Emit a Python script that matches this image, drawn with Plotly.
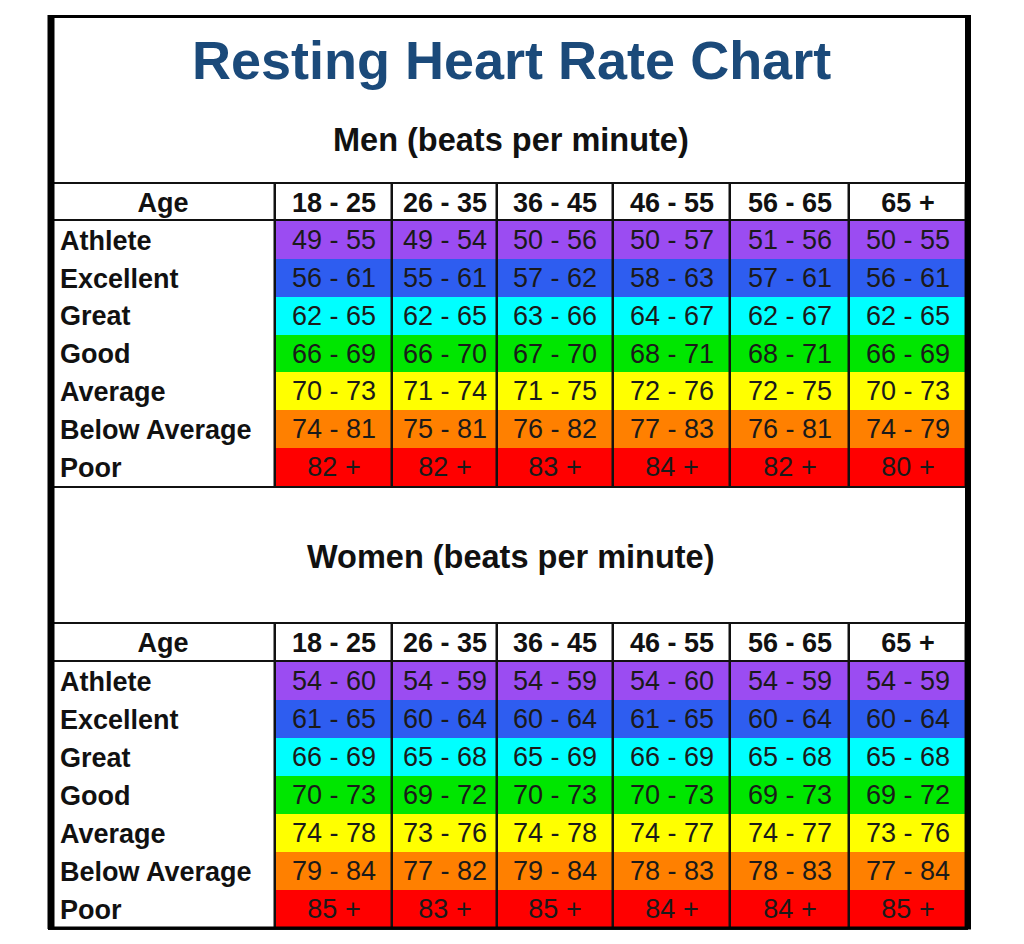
import plotly.graph_objects as go

# Data: resting heart rate ranges (beats per minute)
ages = ["18 - 25", "26 - 35", "36 - 45", "46 - 55", "56 - 65", "65 +"]
levels = ["Athlete", "Excellent", "Great", "Good", "Average", "Below Average", "Poor"]

men = [
    ["49 - 55", "49 - 54", "50 - 56", "50 - 57", "51 - 56", "50 - 55"],
    ["56 - 61", "55 - 61", "57 - 62", "58 - 63", "57 - 61", "56 - 61"],
    ["62 - 65", "62 - 65", "63 - 66", "64 - 67", "62 - 67", "62 - 65"],
    ["66 - 69", "66 - 70", "67 - 70", "68 - 71", "68 - 71", "66 - 69"],
    ["70 - 73", "71 - 74", "71 - 75", "72 - 76", "72 - 75", "70 - 73"],
    ["74 - 81", "75 - 81", "76 - 82", "77 - 83", "76 - 81", "74 - 79"],
    ["82 +", "82 +", "83 +", "84 +", "82 +", "80 +"],
]
women = [
    ["54 - 60", "54 - 59", "54 - 59", "54 - 60", "54 - 59", "54 - 59"],
    ["61 - 65", "60 - 64", "60 - 64", "61 - 65", "60 - 64", "60 - 64"],
    ["66 - 69", "65 - 68", "65 - 69", "66 - 69", "65 - 68", "65 - 68"],
    ["70 - 73", "69 - 72", "70 - 73", "70 - 73", "69 - 73", "69 - 72"],
    ["74 - 78", "73 - 76", "74 - 78", "74 - 77", "74 - 77", "73 - 76"],
    ["79 - 84", "77 - 82", "79 - 84", "78 - 83", "78 - 83", "77 - 84"],
    ["85 +", "83 +", "85 +", "84 +", "84 +", "85 +"],
]

# Styling
level_colors = ["#9b4cf2", "#2e5df0", "#00ffff", "#00e600", "#ffff00", "#ff8000", "#ff0000"]
col_widths = [225, 117, 105, 116, 117, 119, 117]   # label column + age columns (px)
FONT = "Liberation Sans"
OFF = 8                      # page body margin
W, H = 1024 - 2 * OFF, 944 - OFF

edges = [0]
for w in col_widths:
    edges.append(edges[-1] + w)

# white for label column, then one colour per level
palette = ["#ffffff"] + level_colors
n = len(palette)
colorscale = []
for i, c in enumerate(palette):
    colorscale += [[i / n, c], [(i + 1) / n, c]]


def px_x(px):
    return (px - OFF) / W


def px_y(px):
    return 1 - (px - OFF) / H


fig = go.Figure()

# page-pixel boundaries of each block: (top, bottom)
blocks = [
    ("header", men, (184, 221)),
    ("body", men, (221, 486)),
    ("header", women, (624, 662)),
    ("body", women, (662, 928)),
]

for k, (kind, table, (top, bot)) in enumerate(blocks, start=1):
    xa = "x" if k == 1 else f"x{k}"
    ya = "y" if k == 1 else f"y{k}"
    if kind == "header":
        fig.add_trace(go.Heatmap(
            x=edges, y=[0, 1],
            z=[[0] * (len(ages) + 1)],
            text=[["Age"] + ages],
            texttemplate="%{text}",
            textfont=dict(family=FONT, size=27, color="#111111", weight="bold"),
            colorscale=colorscale, zmin=0, zmax=n - 1, showscale=False,
            xgap=2.5, hoverinfo="skip", xaxis=xa, yaxis=ya,
        ))
        yrange = [1, 0]
    else:
        z = [[0] + [i + 1] * len(ages) for i in range(len(levels))]
        text = [[""] + row for row in table]
        fig.add_trace(go.Heatmap(
            x=edges, y=list(range(len(levels) + 1)),
            z=z, text=text,
            texttemplate="%{text}",
            textfont=dict(family=FONT, size=27, color="#1a1a1a"),
            colorscale=colorscale, zmin=0, zmax=n - 1, showscale=False,
            xgap=2.5, hoverinfo="skip", xaxis=xa, yaxis=ya,
        ))
        # row labels, left aligned in the first column
        fig.add_trace(go.Scatter(
            x=[10] * len(levels), y=[i + 0.58 for i in range(len(levels))],
            text=levels, mode="text", textposition="middle right",
            textfont=dict(family=FONT, size=27, color="#111111", weight="bold"),
            hoverinfo="skip", showlegend=False, xaxis=xa, yaxis=ya,
        ))
        yrange = [len(levels), 0]

    axis_style = dict(showgrid=False, zeroline=False, showticklabels=False, ticks="",
                      showline=True, mirror=True, linecolor="#111111", linewidth=2,
                      fixedrange=True)
    fig.layout[f"xaxis{k if k > 1 else ''}"] = dict(
        axis_style, domain=[px_x(50), px_x(966)], range=[0, edges[-1]], anchor=ya)
    fig.layout[f"yaxis{k if k > 1 else ''}"] = dict(
        axis_style, domain=[px_y(bot), px_y(top)], range=yrange, anchor=xa)

# Titles
titles = [
    ("<b>Resting Heart Rate Chart</b>", 60, 54, "#1b4a7a"),
    ("<b>Men (beats per minute)</b>", 140, 32.5, "#111111"),
    ("<b>Women (beats per minute)</b>", 557, 32.5, "#111111"),
]
for txt, yc, size, color in titles:
    fig.add_annotation(text=txt, x=px_x(511), y=px_y(yc), xref="paper", yref="paper",
                       xanchor="center", yanchor="middle", showarrow=False,
                       font=dict(family=FONT, size=size, color=color))

# Outer frame
frame = [
    (51, 51, 15, 929, 7),
    (968, 968, 15, 929, 6),
    (48, 971, 16.5, 16.5, 3),
    (48, 971, 928, 928, 3),
]
for x0, x1, y0, y1, lw in frame:
    fig.add_shape(type="line", xref="paper", yref="paper",
                  x0=px_x(x0), x1=px_x(x1), y0=px_y(y0), y1=px_y(y1),
                  line=dict(color="#000000", width=lw))

fig.update_layout(
    width=W, height=H,
    margin=dict(l=0, r=0, t=0, b=0),
    paper_bgcolor="#ffffff",
    plot_bgcolor="#111111",
    showlegend=False,
)

fig.write_html("out.html")
